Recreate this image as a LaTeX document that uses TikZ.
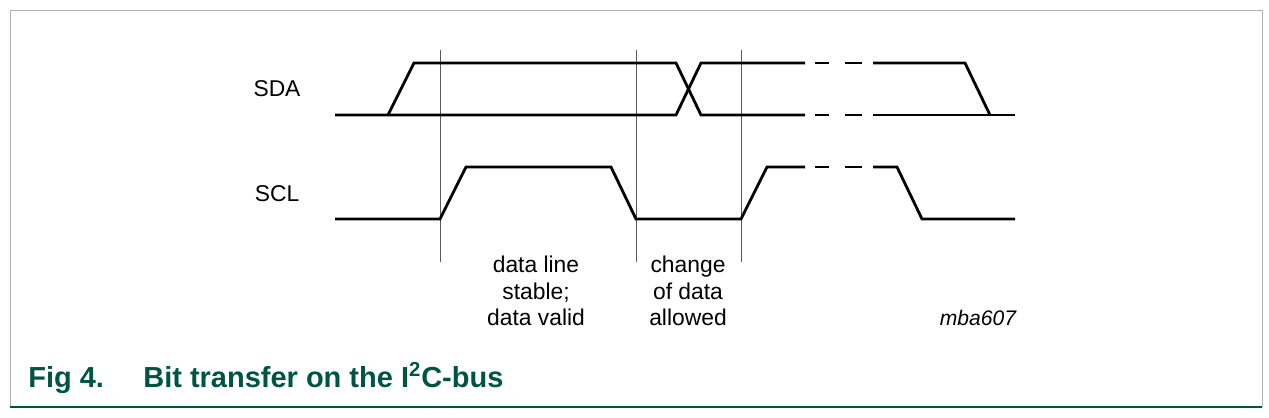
\documentclass[tikz,border=0pt]{standalone}
\usepackage{fontspec}
\setmainfont{Liberation Sans}
\definecolor{figgreen}{RGB}{0,84,70}
\tikzset{
    wave/.style={line width=1.6pt, line join=miter},
    marker/.style={line width=0.4pt, gray!70!black},
    lbl/.style={font=\fontsize{13}{15}\selectfont, align=center, inner sep=0pt}
}
\begin{document}
\begin{tikzpicture}[x=0.02cm, y=-0.02cm]
    \useasboundingbox (0, 0) rectangle (1269, 418);
    % frame
    \draw[gray!60] (10, 407) -- (10, 10) -- (1262, 10) -- (1262, 407);
    \draw[figgreen, line width=1.2pt] (10, 407) -- (1262, 407);
    % markers
    \foreach \x in {440, 636, 741}
        \draw[marker] (\x, 50) -- (\x, 262);
    % SDA
    \node[lbl] (sda) at (277, 89) {SDA};
    \draw[wave] (335, 115) -- (676, 115) -- (701, 63) -- (805, 63);
    \draw[wave] (388, 115) -- (414, 63) -- (676, 63) -- (701, 115) -- (805, 115);
    \draw[wave] (873, 63) -- (965, 63) -- (990, 115);
    \draw[wave] (873, 115) -- (1015, 115);
    % SCL
    \node[lbl] (scl) at (277, 194) {SCL};
    \draw[wave] (335, 219) -- (440, 219) -- (466, 167) -- (611, 167) -- (636, 219)
        -- (741, 219) -- (767, 167) -- (805, 167);
    \draw[wave] (873, 167) -- (897, 167) -- (922, 219) -- (1015, 219);
    % gaps
    \foreach \y in {63, 115, 167} {
        \draw[wave] (815, \y) -- (829, \y);
        \draw[wave] (845, \y) -- (862, \y);
    }
    % labels
    \node[lbl] (valid) at (536, 291) {data line\\stable;\\data valid};
    \node[lbl] (change) at (688, 291) {change\\of data\\allowed};
    \node[lbl, font=\itshape\fontsize{12}{14}\selectfont] (code) at (978, 318) {mba607};
    % caption
    \node[anchor=base west, inner sep=0pt, text=figgreen, font=\bfseries\fontsize{16.5}{19}\selectfont]
        (fig) at (28, 388) {Fig 4.};
    \node[anchor=base west, inner sep=0pt, text=figgreen, font=\bfseries\fontsize{16.5}{19}\selectfont]
        (title) at (143, 388) {Bit transfer on the I\textsuperscript{2}C-bus};
\end{tikzpicture}
\end{document}
